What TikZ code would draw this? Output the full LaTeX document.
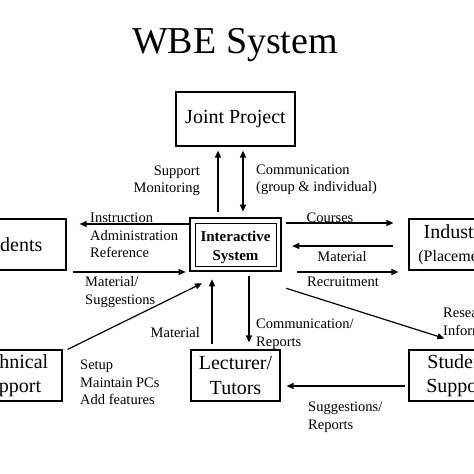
\documentclass[tikz,border=0pt]{standalone}
\usepackage{fontspec}
\setmainfont{Liberation Serif}
\usetikzlibrary{arrows.meta}
\begin{document}
\begin{tikzpicture}[x=1pt,y=-1pt,
  box/.style={draw,line width=1.2pt,minimum width=#1,inner sep=0pt,align=center,font=\fontsize{20}{24.5}\selectfont},
  lbl/.style={inner sep=0pt,font=\fontsize{14.5}{17.5}\selectfont},
  arr/.style={line width=1.2pt,-{Triangle[length=7pt,width=6pt]}},
  darr/.style={line width=1.2pt,{Triangle[length=7pt,width=6pt]}-{Triangle[length=7pt,width=6pt]}}]
\useasboundingbox (0,0) rectangle (474,474);
\clip (0,0) rectangle (474,474);
\node[inner sep=0pt,anchor=base,font=\fontsize{38}{40}\selectfont] (title) at (235,53) {WBE System};
\node[box=119pt,minimum height=54pt] (joint) at (235.5,119) {Joint Project};
\node[draw,line width=2.6pt,minimum width=91pt,minimum height=53pt,inner sep=0pt] (inter) at (235.5,244.5) {};
\node[draw,line width=0.8pt,minimum width=81pt,minimum height=43pt,inner sep=0pt] (intin) at (235.5,244.5) {};
\node[inner sep=0pt,align=center,font=\fontsize{15}{19}\selectfont\bfseries] (inttxt) at (235.5,247) {Interactive\\System};
\node[box=116pt,minimum height=51pt] (stud) at (8,244.5) {Students};
\node[box=105pt,minimum height=51pt] (tech) at (9.5,375.5) {Technical\\Support};
\node[box=89pt,minimum height=51pt] (lect) at (235.5,375.5) {Lecturer/\\Tutors};
\node[box=96pt,minimum height=51pt,font=\fontsize{20}{23}\selectfont] (ind) at (457,244.5) {Industry\\{\fontsize{16}{18}\selectfont(Placement)}};
\node[box=98pt,minimum height=51pt] (ss) at (458,375.5) {Student\\Support};
% connectors
\draw[arr] ([yshift=20.5pt]inter.west) -- ([xshift=13pt,yshift=20.5pt]stud.east);
\draw[arr] ([xshift=6pt,yshift=-27.5pt]stud.east) -- ([xshift=-3pt,yshift=-27.5pt]inter.west);
\draw[arr] ([xshift=4pt,yshift=21.5pt]inter.east) -- ([xshift=-15pt,yshift=21.5pt]ind.west);
\draw[arr] ([xshift=-15pt,yshift=-1.5pt]ind.west) -- ([xshift=10pt,yshift=-1.5pt]inter.east);
\draw[arr] ([xshift=15pt,yshift=-27.5pt]inter.east) -- ([xshift=-10pt,yshift=-27.5pt]ind.west);
\draw[arr] ([xshift=-17.5pt,yshift=5pt]inter.north) -- ([xshift=-17.5pt,yshift=-4pt]joint.south);
\draw[darr] ([xshift=7.5pt,yshift=5pt]inter.north) -- ([xshift=7.5pt,yshift=-4pt]joint.south);
\draw[arr] ([xshift=-23.5pt,yshift=5pt]lect.north) -- ([xshift=-23.5pt,yshift=-7pt]inter.south);
\draw[arr] ([xshift=13.5pt,yshift=-4pt]inter.south) -- ([xshift=13.5pt,yshift=7pt]lect.north);
\draw[arr] ([xshift=5pt]tech.north east) -- ([xshift=-33.5pt,yshift=-11pt]inter.south);
\draw[arr] ([xshift=4pt,yshift=-16pt]inter.south east) -- ([xshift=36pt,yshift=11pt]ss.north west);
\draw[arr] ([xshift=-3pt,yshift=-10.5pt]ss.west) -- ([xshift=6pt,yshift=-10.5pt]lect.east);
% labels
\node[lbl,align=right,anchor=east] (l1) at (200,181) {Support\\Monitoring};
\node[lbl,align=left,anchor=west] (l2) at (256,180) {Communication\\(group \& individual)};
\node[lbl,align=left,anchor=west] (l3) at (90,235.5) {Instruction\\Administration\\Reference};
\node[lbl,align=left,anchor=west] (l4) at (85,292) {Material/\\Suggestions};
\node[lbl] (l5) at (330,218) {Courses};
\node[lbl] (l6) at (342,257) {Material};
\node[lbl] (l7) at (343,282) {Recruitment};
\node[lbl,align=left,anchor=west] (l8) at (443,321.5) {Research/\\Information};
\node[lbl,anchor=east] (l9) at (200,333) {Material};
\node[lbl,align=left,anchor=west] (l10) at (256,334) {Communication/\\Reports};
\node[lbl,align=left,anchor=west] (l11) at (80,382.5) {Setup\\Maintain PCs\\Add features};
\node[lbl,align=left,anchor=west] (l12) at (308,417) {Suggestions/\\Reports};
\end{tikzpicture}
\end{document}
